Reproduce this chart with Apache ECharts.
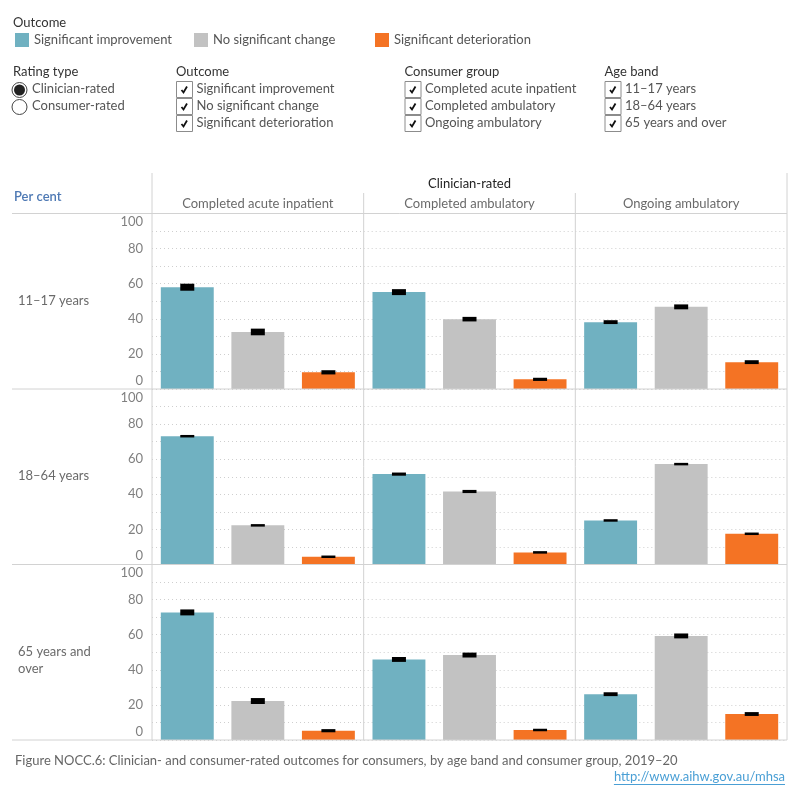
<!DOCTYPE html>
<html>
<head>
<meta charset="utf-8">
<script src="https://cdn.jsdelivr.net/npm/echarts@6/dist/echarts.min.js"></script>
<style>
html,body{margin:0;padding:0;background:#fff;}
#chart{width:800px;height:800px;}
</style>
</head>
<body>
<div id="chart"></div>
<script>
// ---- Data ----
const ratingTypes = ['Clinician-rated', 'Consumer-rated'];
const outcomes = ['Significant improvement', 'No significant change', 'Significant deterioration'];
const consumerGroups = ['Completed acute inpatient', 'Completed ambulatory', 'Ongoing ambulatory'];
const ageBands = ['11–17 years', '18–64 years', '65 years and over'];
const rowLabels = ['11–17 years', '18–64 years', '65 years and\nover'];
const yTicks = [0, 20, 40, 60, 80, 100];

// values [ageBand][consumerGroup], per cent (clinician-rated)
const improvement   = [[58.0, 55.2, 38.1], [73.1, 51.5, 25.1], [72.7, 45.9, 26.1]];
const noChange      = [[32.5, 39.8, 46.8], [22.3, 41.6, 57.2], [22.2, 48.4, 59.3]];
const deterioration = [[9.5, 5.5, 15.3], [4.4, 6.9, 17.5], [5.3, 5.7, 14.8]];
// confidence interval half-widths [ageBand][consumerGroup]
const improvementCI   = [[2.0, 1.7, 1.1], [0.6, 0.9, 0.6], [1.7, 1.4, 1.1]];
const noChangeCI      = [[1.9, 1.3, 1.4], [0.6, 0.9, 0.6], [1.7, 1.4, 1.4]];
const deteriorationCI = [[1.2, 0.9, 1.1], [0.4, 0.6, 0.3], [0.9, 0.6, 1.1]];

const colors = ['#70b1c1', '#c2c2c2', '#f47324'];
const valueSets = [improvement, noChange, deterioration];
const ciSets = [improvementCI, noChangeCI, deteriorationCI];

// ---- Layout ----
const FONT = 'Lato';
const colLeft0 = 152, colW = 211.67;
const rowTop0 = 213.5, rowH = 175.5;
const lineColor = '#d2d2d2';

const grids = [], xAxes = [], yAxes = [], series = [];
let gi = 0;
for (let r = 0; r < 3; r++) {
  for (let c = 0; c < 3; c++) {
    grids.push({left: colLeft0 + c * colW, top: rowTop0 + r * rowH, width: colW, height: rowH, containLabel: false});
    xAxes.push({type: 'category', gridIndex: gi, data: outcomes, show: false, boundaryGap: true});
    yAxes.push({
      type: 'value', gridIndex: gi, min: 0, max: 100, interval: 20,
      axisLine: {show: false}, axisTick: {show: false},
      axisLabel: {
        show: c === 0, margin: 9,
        formatter: v => yTicks.indexOf(v) < 0 ? '' : (v === 100 ? '{t|100}' : (v === 0 ? '{b|0}' : '{n|' + v + '}')),
        rich: {
          t: {padding: [17, 0, 0, 0], color: '#808080', fontSize: 13, fontFamily: FONT},
          b: {padding: [0, 0, 17, 0], color: '#808080', fontSize: 13, fontFamily: FONT},
          n: {color: '#808080', fontSize: 13, fontFamily: FONT}
        }
      },
      splitLine: {show: true, lineStyle: {color: '#cfcfcf', type: [1, 3], width: 1}},
      minorTick: {show: false, splitNumber: 2},
      minorSplitLine: {show: true, lineStyle: {color: '#cfcfcf', type: [1, 3], width: 1}}
    });
    outcomes.forEach((name, k) => {
      const d = outcomes.map((_, j) => j === k ? valueSets[k][r][c] : '-');
      series.push({
        name: name, type: 'bar', xAxisIndex: gi, yAxisIndex: gi,
        data: d, barWidth: '75%', barGap: '-100%',
        itemStyle: {color: colors[k]}, silent: true
      });
    });
    const eb = outcomes.map((_, k) => [k, valueSets[k][r][c] - ciSets[k][r][c], valueSets[k][r][c] + ciSets[k][r][c]]);
    series.push({
      type: 'custom', xAxisIndex: gi, yAxisIndex: gi, data: eb, z: 5, silent: true,
      renderItem: function (params, api) {
        const x = api.value(0);
        const lo = api.coord([x, api.value(1)]);
        const hi = api.coord([x, api.value(2)]);
        let h = lo[1] - hi[1];
        let y = hi[1];
        if (h < 2.5) { y = (lo[1] + hi[1]) / 2 - 1.25; h = 2.5; }
        return {type: 'rect', shape: {x: lo[0] - 7, y: y, width: 14, height: h}, style: {fill: '#000'}};
      }
    });
    gi++;
  }
}

// ---- Graphic (text, borders, filters) ----
const g = [];
function txt(t, x, y, opt) {
  opt = opt || {};
  g.push({type: 'text', z: 20, style: {
    text: t, x: x, y: y, fill: opt.fill || '#555',
    font: (opt.weight || 'normal') + ' ' + (opt.size || 13) + 'px ' + FONT,
    align: opt.align || 'left', verticalAlign: opt.va || 'middle', lineHeight: opt.lh || 16
  }});
}
function line(x1, y1, x2, y2, color) {
  g.push({type: 'line', z: 30, shape: {x1: x1, y1: y1, x2: x2, y2: y2}, style: {stroke: color || lineColor, lineWidth: 1}});
}
function checkbox(x, y) {
  g.push({type: 'rect', z: 20, shape: {x: x + 0.5, y: y + 0.5, width: 16, height: 16}, style: {fill: '#fff', stroke: '#8c8c8c', lineWidth: 1}});
  g.push({type: 'polyline', z: 21, shape: {points: [[x + 5.5, y + 9], [x + 7.5, y + 11.5], [x + 11, y + 5.5]]}, style: {stroke: '#111', lineWidth: 1.8, fill: null}});
}
function radio(cx, cy, sel) {
  g.push({type: 'circle', z: 20, shape: {cx: cx, cy: cy, r: 7.5}, style: {fill: '#fff', stroke: '#444', lineWidth: 1}});
  if (sel) g.push({type: 'circle', z: 21, shape: {cx: cx, cy: cy, r: 5.5}, style: {fill: '#222'}});
}

txt('Outcome', 13, 23, {fill: '#333'});
// filters
txt('Rating type', 13, 72, {fill: '#333'});
ratingTypes.forEach((t, i) => { radio(19.5, 90 + i * 17, i === 0); txt(t, 32, 89 + i * 17, {fill: '#555'}); });
const filterCols = [[176, 'Outcome', outcomes], [404.5, 'Consumer group', consumerGroups], [604.5, 'Age band', ageBands]];
filterCols.forEach(fc => {
  txt(fc[1], fc[0], 72, {fill: '#333'});
  fc[2].forEach((t, i) => { checkbox(fc[0], 81 + i * 17); txt(t, fc[0] + 20.5, 89 + i * 17, {fill: '#555'}); });
});

// headers
txt('Per cent', 14, 197, {fill: '#4e79b4', weight: '600'});
txt(ratingTypes[0], colLeft0 + 1.5 * colW, 184, {fill: '#222', align: 'center'});
consumerGroups.forEach((t, c) => txt(t, colLeft0 + (c + 0.5) * colW, 204, {fill: '#6a6a6a', align: 'center'}));
rowLabels.forEach((t, r) => {
  if (r < 2) txt(t, 18, rowTop0 + r * rowH + 87, {fill: '#6a6a6a'});
  else txt(t, 18, rowTop0 + r * rowH + 96, {fill: '#6a6a6a', lh: 17});
});

// borders
const right = colLeft0 + 3 * colW;
for (let r = 0; r <= 3; r++) line(12, rowTop0 + r * rowH, right, rowTop0 + r * rowH);
line(colLeft0, 173, colLeft0, rowTop0 + 3 * rowH);
line(colLeft0 + colW, 193, colLeft0 + colW, rowTop0 + 3 * rowH);
line(colLeft0 + 2 * colW, 193, colLeft0 + 2 * colW, rowTop0 + 3 * rowH);
line(right, 173, right, rowTop0 + 3 * rowH);

// footer
txt('Figure NOCC.6: Clinician- and consumer-rated outcomes for consumers, by age band and consumer group, 2019–20', 15, 761, {fill: '#666'});
const linkText = 'http://www.aihw.gov.au/mhsa';
txt(linkText, 785, 777, {fill: '#4a9fd5', align: 'right'});
const mctx = document.createElement('canvas').getContext('2d');
mctx.font = '13px ' + FONT;
const linkW = mctx.measureText(linkText).width;
line(785 - linkW, 784.5, 785, 784.5, '#4a9fd5');

const legendX = [15, 194, 375];
const legends = outcomes.map((o, k) => ({
  data: [o], left: legendX[k], top: 33, icon: 'rect', itemWidth: 14, itemHeight: 14, itemGap: 0,
  selectedMode: false, padding: 0,
  textStyle: {fontFamily: FONT, fontSize: 13, color: '#555', padding: [1, 0, 0, 0]}
}));

const chart = echarts.init(document.getElementById('chart'));
chart.setOption({
  animation: false,
  backgroundColor: '#fff',
  legend: legends,
  grid: grids, xAxis: xAxes, yAxis: yAxes, series: series,
  graphic: g
});
</script>
</body>
</html>
